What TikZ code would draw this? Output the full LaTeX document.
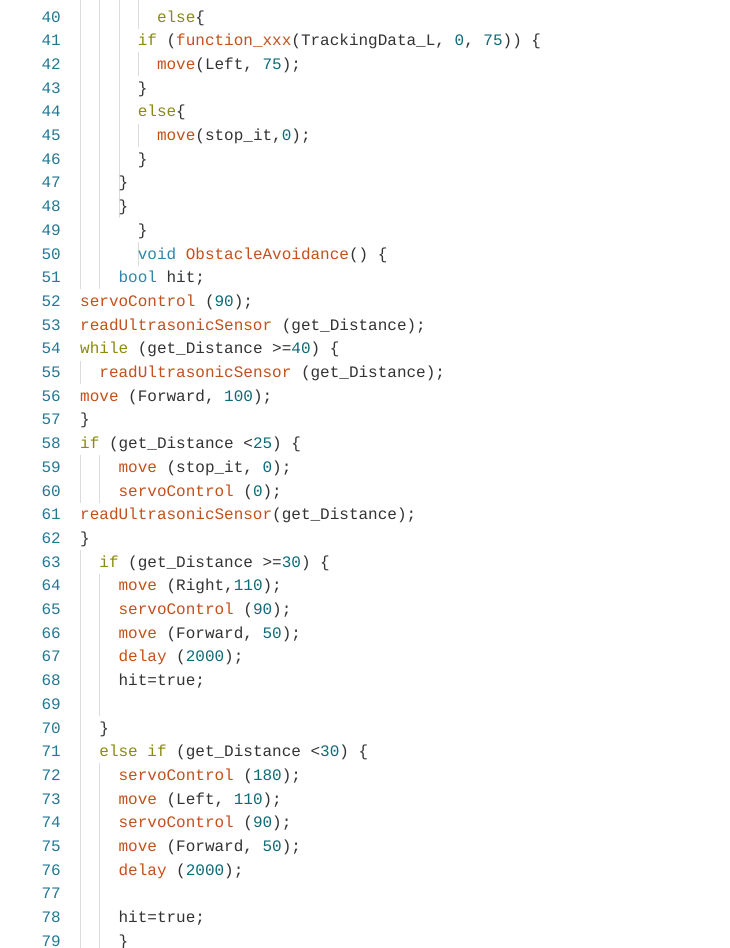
\documentclass[tikz,border=0pt]{standalone}
\usepackage{fontspec}
\setmonofont{Liberation Mono}
\definecolor{lnum}{HTML}{237893}
\definecolor{kwc}{HTML}{8A8A10}
\definecolor{fnc}{HTML}{C4501C}
\definecolor{nmc}{HTML}{0E6A78}
\definecolor{tyc}{HTML}{2F86A8}
\definecolor{txc}{HTML}{333333}
\definecolor{guide}{HTML}{DCDCDC}
\newcommand{\kw}[1]{\textcolor{kwc}{#1}}
\newcommand{\fn}[1]{\textcolor{fnc}{#1}}
\newcommand{\nm}[1]{\textcolor{nmc}{#1}}
\newcommand{\ty}[1]{\textcolor{tyc}{#1}}
\newcommand{\CL}[3]{%
  \node[lno] (n#1) at (61pt,{-(22+(#1-40)*23.7)*1pt}) {#1};
  \node[code] (c#1) at ({(80+9.6*#2)*1pt},{-(22+(#1-40)*23.7)*1pt}) {#3};}
\newcommand{\GD}[3]{% col, first line, last line
  \draw[guide] ({(80.5+9.6*#1)*1pt},{-(22+(#2-40)*23.7-17)*1pt}) -- ({(80.5+9.6*#1)*1pt},{-(22+(#3-40)*23.7+6.7)*1pt});}
\begin{document}
\begin{tikzpicture}[
  lno/.style={anchor=base east,inner sep=0pt,font=\ttfamily\fontsize{16pt}{16pt}\selectfont,text=lnum},
  code/.style={anchor=base west,inner sep=0pt,font=\ttfamily\fontsize{16pt}{16pt}\selectfont,text=txc},
  guide/.style={draw=guide,line width=0.8pt}]
\fill[white] (0,0) rectangle (730pt,-948pt);
\useasboundingbox (0,0) rectangle (730pt,-948pt);
% indent guides
\GD{0}{39}{51}\GD{2}{39}{51}\GD{4}{39}{48}\GD{6}{39}{40}\GD{6}{42}{42}\GD{6}{45}{45}\GD{6}{50}{50}
\GD{0}{55}{55}\GD{0}{59}{60}\GD{2}{59}{60}
\GD{0}{63}{80}\GD{2}{64}{69}\GD{2}{72}{80}
\CL{40}{8}{\kw{else}\{}
\CL{41}{6}{\kw{if} (\fn{function\_xxx}(TrackingData\_L, \nm{0}, \nm{75})) \{}
\CL{42}{8}{\fn{move}(Left, \nm{75});}
\CL{43}{6}{\}}
\CL{44}{6}{\kw{else}\{}
\CL{45}{8}{\fn{move}(stop\_it,\nm{0});}
\CL{46}{6}{\}}
\CL{47}{4}{\}}
\CL{48}{4}{\}}
\CL{49}{6}{\}}
\CL{50}{6}{\ty{void} \fn{ObstacleAvoidance}() \{}
\CL{51}{4}{\ty{bool} hit;}
\CL{52}{0}{\fn{servoControl} (\nm{90});}
\CL{53}{0}{\fn{readUltrasonicSensor} (get\_Distance);}
\CL{54}{0}{\kw{while}  (get\_Distance >=\nm{40}) \{}
\CL{55}{2}{\fn{readUltrasonicSensor} (get\_Distance);}
\CL{56}{0}{\fn{move} (Forward, \nm{100});}
\CL{57}{0}{\}}
\CL{58}{0}{\kw{if} (get\_Distance <\nm{25}) \{}
\CL{59}{4}{\fn{move} (stop\_it, \nm{0});}
\CL{60}{4}{\fn{servoControl} (\nm{0});}
\CL{61}{0}{\fn{readUltrasonicSensor}(get\_Distance);}
\CL{62}{0}{\}}
\CL{63}{2}{\kw{if} (get\_Distance >=\nm{30}) \{}
\CL{64}{4}{\fn{move} (Right,\nm{110});}
\CL{65}{4}{\fn{servoControl} (\nm{90});}
\CL{66}{4}{\fn{move} (Forward, \nm{50});}
\CL{67}{4}{\fn{delay} (\nm{2000});}
\CL{68}{4}{hit=true;}
\CL{69}{4}{}
\CL{70}{2}{\}}
\CL{71}{2}{\kw{else if} (get\_Distance <\nm{30}) \{}
\CL{72}{4}{\fn{servoControl} (\nm{180});}
\CL{73}{4}{\fn{move} (Left, \nm{110});}
\CL{74}{4}{\fn{servoControl} (\nm{90});}
\CL{75}{4}{\fn{move} (Forward, \nm{50});}
\CL{76}{4}{\fn{delay} (\nm{2000});}
\CL{77}{4}{}
\CL{78}{4}{hit=true;}
\CL{79}{4}{\}}
\end{tikzpicture}
\end{document}
